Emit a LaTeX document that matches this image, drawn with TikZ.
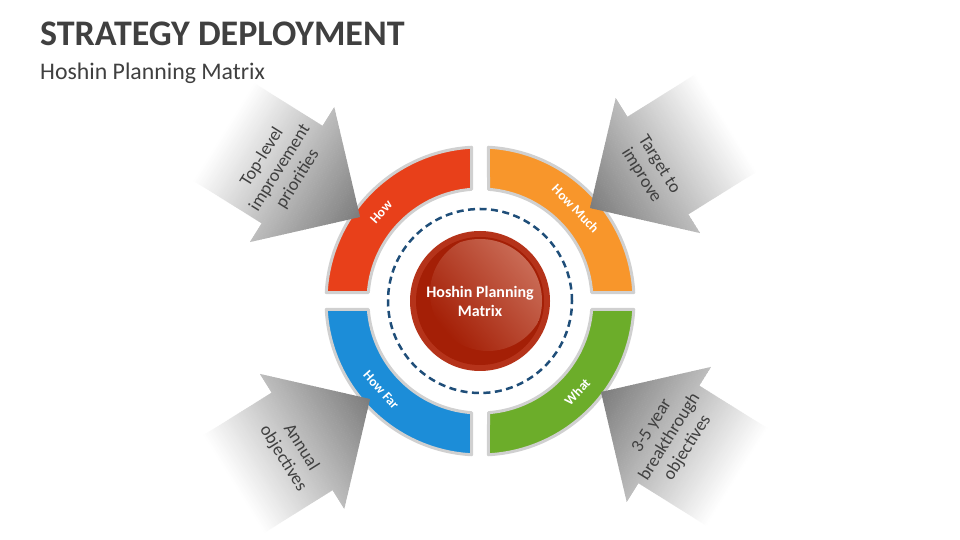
\documentclass[tikz,border=0pt]{standalone}
\usepackage{fontspec}
\setmainfont{Carlito}
\usetikzlibrary{fadings}
\definecolor{titlegray}{HTML}{404040}
\definecolor{qred}{HTML}{E8401A}
\definecolor{qorange}{HTML}{F8962B}
\definecolor{qblue}{HTML}{1C8DD8}
\definecolor{qgreen}{HTML}{6CAD2A}
\definecolor{ringgray}{HTML}{D0D0D0}
\definecolor{dashblue}{HTML}{1F4E79}
\definecolor{rimred}{HTML}{B5331A}
\definecolor{corered}{HTML}{A41F06}
\definecolor{glossred}{HTML}{DA8C78}
\definecolor{arrowgray}{HTML}{7C7C7C}
\tikzset{
  quad/.style={draw=ringgray, line width=3pt, line join=round},
  qlabel/.style={text=white, font=\bfseries\fontsize{13.5}{15}\selectfont, inner sep=0},
  arrowtext/.style={text=titlegray, font=\fontsize{18}{21}\selectfont, align=center, inner sep=0},
  pics/garrow/.style={code={
    \begin{scope}
      \clip (0,0) -- (-80,79.5) -- (-80,57.5) -- (-160,57.5) -- (-160,-57.5) -- (-80,-57.5) -- (-80,-79.5) -- cycle;
      \foreach \i in {0,...,79}{
        \pgfmathsetmacro{\pct}{(\i+0.5)*100/80}
        \fill[arrowgray!\pct!white] (-160+2*\i,-82) rectangle (-157.6+2*\i,82);
      }
    \end{scope}
  }}
}
\begin{document}
\begin{tikzpicture}[x=1pt,y=1pt]
\useasboundingbox (0,0) rectangle (960,540);
\fill[white] (0,0) rectangle (960,540);
\node[anchor=base west, font=\bfseries\fontsize{36}{40}\selectfont, text=titlegray, inner sep=0] (title) at (40,494) {STRATEGY DEPLOYMENT};
\node[anchor=base west, font=\fontsize{23.8}{28}\selectfont, text=titlegray, inner sep=0] (subtitle) at (40,460) {Hoshin Planning Matrix};

\begin{scope}[shift={(480,239)}]
  \path[quad, fill=qred] (93.16:154) arc[start angle=93.16, end angle=176.84, radius=154] -- (175.65:112) arc[start angle=175.65, end angle=94.35, radius=112] -- cycle;
  \path[quad, fill=qorange] (3.16:154) arc[start angle=3.16, end angle=86.84, radius=154] -- (85.65:112) arc[start angle=85.65, end angle=4.35, radius=112] -- cycle;
  \path[quad, fill=qblue] (183.16:154) arc[start angle=183.16, end angle=266.84, radius=154] -- (265.65:112) arc[start angle=265.65, end angle=184.35, radius=112] -- cycle;
  \path[quad, fill=qgreen] (273.16:154) arc[start angle=273.16, end angle=356.84, radius=154] -- (355.65:112) arc[start angle=355.65, end angle=274.35, radius=112] -- cycle;
  \node[qlabel, rotate=48] (how) at (138:133) {How};
  \node[qlabel, rotate=-46] (howmuch) at (44:133) {How Much};
  \node[qlabel, rotate=-48] (howfar) at (222:133) {How Far};
  \node[qlabel, rotate=47] (what) at (317:133) {What};
  \draw[dashblue, line width=2.5pt, dash pattern=on 7pt off 4.5pt] (0,0) circle (92);
  \fill[rimred] (0,0) circle (70);
  \fill[corered] (0,0) circle (64);
  \begin{scope}
    \clip (0,0) circle (62);
    \fill[glossred, fill opacity=0.75, path fading=west, fading angle=40] (8,8) circle (58);
  \end{scope}
  \node[text=white, font=\bfseries\fontsize{16}{19}\selectfont, align=center] (center) at (0,0) {Hoshin Planning\\Matrix};
\end{scope}

\pic[rotate=-32] (a1) at (360,323) {garrow};
\pic[rotate=212] (a2) at (590,332) {garrow};
\pic[rotate=32] (a3) at (370,141) {garrow};
\pic[rotate=148] (a4) at (601,148) {garrow};

\node[arrowtext, rotate=58] (t1) at (280,372) {Top-level\\improvement\\priorities};
\node[arrowtext, rotate=-58] (t2) at (650,370) {Target to\\improve};
\node[arrowtext, rotate=-58] (t3) at (292,87) {Annual\\objectives};
\node[arrowtext, rotate=58] (t4) at (670,103) {3-5 year\\breakthrough\\objectives};
\end{tikzpicture}
\end{document}
